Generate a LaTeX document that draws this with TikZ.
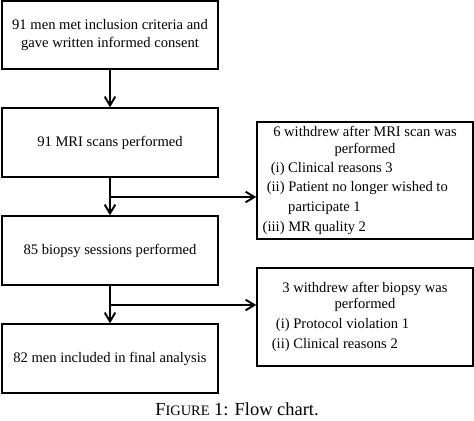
\documentclass[tikz,border=0pt]{standalone}
\usepackage{fontspec}
\setmainfont{Liberation Serif}
\usetikzlibrary{arrows.meta}

\begin{document}
\begin{tikzpicture}[x=0.02cm, y=-0.02cm,
    box/.style={draw, line width=0.85pt, minimum width=4.32cm, inner sep=0pt,
        align=center, font=\fontsize{8.3}{10.2}\selectfont},
    flow/.style={line width=1.1pt, -{Straight Barb[length=5pt,width=6pt]}}]
    \useasboundingbox (0,0) rectangle (474,420);

    % main column
    \node[box, minimum height=1.36cm] (consent) at (110,35)
        {91 men met inclusion criteria and\\gave written informed consent};
    \node[box, minimum height=1.38cm] (mri) at (110,142.5) {91 MRI scans performed};
    \node[box, minimum height=1.38cm] (biopsy) at (110,250.5) {85 biopsy sessions performed};
    \node[box, minimum height=1.38cm] (final) at (110,358.5) {82 men included in final analysis};

    % side boxes
    \node[box, minimum height=2.34cm, font=\fontsize{8.3}{9.6}\selectfont] (mriout) at (365,180.5)
        {\begin{tabular}{@{}r@{\ }l@{}}
        \multicolumn{2}{c}{6 withdrew after MRI scan was}\\
        \multicolumn{2}{c}{performed}\\[1.2pt]
        (i) & Clinical reasons 3\\[1.7pt]
        (ii) & Patient no longer wished to\\[1.7pt]
        & participate 1\\[1.7pt]
        (iii) & MR quality 2
        \end{tabular}};
    \node[box, minimum height=1.96cm, font=\fontsize{8.3}{9.6}\selectfont] (biopsyout) at (365,317)
        {\begin{tabular}{@{}r@{\ }l@{}}
        \multicolumn{2}{c}{3 withdrew after biopsy was}\\
        \multicolumn{2}{c}{performed}\\[1.7pt]
        (i) & Protocol violation 1\\[1.7pt]
        (ii) & Clinical reasons 2
        \end{tabular}};

    % arrows
    \draw[flow] (consent) -- (mri);
    \draw[flow] (mri) -- (biopsy);
    \draw[flow] (biopsy) -- (final);
    \coordinate (split1) at (110,197);
    \coordinate (split2) at (110,305);
    \draw[flow] (split1) -- (split1 -| mriout.west);
    \draw[flow] (split2) -- (split2 -| biopsyout.west);

    % caption
    \node (caption) at (237,409)
        {\fontsize{10.5}{12}\selectfont F{\fontsize{8.2}{9}\selectfont IGURE} 1: Flow chart.};
\end{tikzpicture}
\end{document}
